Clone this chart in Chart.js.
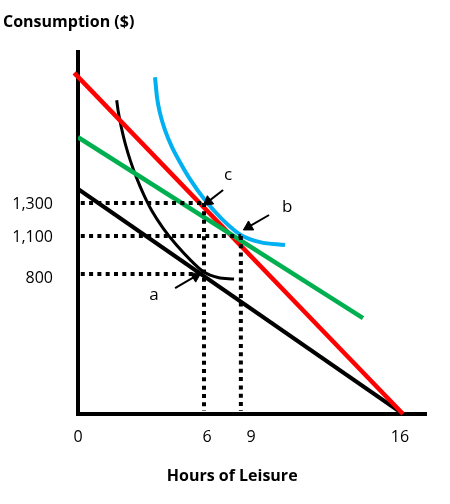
<!DOCTYPE html>
<html>
<head>
<meta charset="utf-8">
<script src="https://cdn.jsdelivr.net/npm/chart.js@4.4.0/dist/chart.umd.min.js"></script>
<style>
  html, body { margin: 0; padding: 0; background: #fff; }
</style>
</head>
<body>
<canvas id="chart" width="450" height="504"></canvas>
<script>
// Sketch coordinates: the diagram is not drawn to scale, so both axes run 0-100
// "as drawn" and the tick labels are put where the picture shows them.
const xTickPos    = [0, 37.1, 49.7, 92.5];
const xTickLabels = ['0', '6', '9', '16'];
const yTickPos    = [37.6, 48.9, 58.0];
const yTickLabels = ['800', '1,100', '1,300'];

// budget lines (start, end)
const redBudgetX   = [-1.1, 93.4];
const redBudgetY   = [94.3, 0];
const greenBudgetX = [0, 81.9];
const greenBudgetY = [76.5, 26.5];
const blackBudgetX = [0, 93.4];
const blackBudgetY = [62.2, 0];

// indifference curves
const lowCurveX  = [11.12, 11.58, 12.50, 13.65, 15.09, 16.81, 18.82, 21.26, 24.43, 28.30, 32.61, 36.21, 40.23, 44.83];
const lowCurveY  = [86.74, 83.51, 79.01, 74.45, 69.89, 65.33, 60.77, 56.08, 51.38, 46.69, 42.27, 39.23, 37.71, 37.29];
const highCurveX = [22.13, 22.70, 23.56, 25.00, 27.01, 29.31, 32.18, 36.49, 41.38, 46.84, 52.30, 59.48];
const highCurveY = [93.09, 87.57, 83.15, 78.45, 73.76, 69.61, 64.92, 59.12, 53.87, 49.45, 47.51, 46.69];

// dotted guides: horizontal ones from the axis, vertical ones down to it
const guideY    = [58.3, 49.2, 38.7];
const guideEndX = [36.2, 46.8, 36.2];
const dropX     = [36.2, 46.8];
const dropTopY  = [58.3, 49.2];

// points a, b, c with their arrows
const pointLabels = ['a', 'b', 'c'];
const pointLabelX = [21.8, 60.1, 43.1];
const pointLabelY = [32.9, 57.2, 66.0];
const arrowTailX  = [27.9, 54.9, 41.7];
const arrowTailY  = [34.8, 55.0, 61.9];
const arrowHeadX  = [33.8, 49.0, 37.4];
const arrowHeadY  = [38.1, 51.7, 58.7];

const xTitle = 'Hours of Leisure';
const yTitle = 'Consumption ($)';

const pts = (xs, ys) => xs.map((v, i) => ({ x: v, y: ys[i] }));

function lineSet(data, color, width, order, extra) {
  return Object.assign({
    data, borderColor: color, borderWidth: width, pointRadius: 0,
    fill: false, tension: 0, order
  }, extra || {});
}

const datasets = [];

// guides on top
guideY.forEach((gy, i) => {
  datasets.push(lineSet(pts([0.8, guideEndX[i]], [gy, gy]), '#000', 4, 0,
    { borderDash: [4, 4.3], borderCapStyle: 'butt' }));
});
dropX.forEach((dx, i) => {
  datasets.push(lineSet(pts([dx, dx], [dropTopY[i], 0.8]), '#000', 4, 0,
    { borderDash: [4, 4.3], borderCapStyle: 'butt' }));
});

// arrows: shaft plus a rotated triangle at the head
pointLabels.forEach((_, i) => {
  datasets.push(lineSet(pts([arrowTailX[i], arrowHeadX[i]], [arrowTailY[i], arrowHeadY[i]]), '#000', 2, 0, {
    pointRadius: ctx => ctx.dataIndex === 1 ? 6 : 0,
    pointStyle: 'triangle',
    pointBackgroundColor: '#000',
    pointBorderColor: '#000',
    pointBorderWidth: 1,
    pointRotation: ctx => {
      const d = ctx.dataset.data, sx = ctx.chart.scales.x, sy = ctx.chart.scales.y;
      const dx = sx.getPixelForValue(d[1].x) - sx.getPixelForValue(d[0].x);
      const dy = sy.getPixelForValue(d[1].y) - sy.getPixelForValue(d[0].y);
      return Math.atan2(dx, -dy) * 180 / Math.PI;
    }
  }));
});

datasets.push(lineSet(pts(greenBudgetX, greenBudgetY), '#00B050', 4.5, 1));
datasets.push(lineSet(pts(highCurveX, highCurveY), '#00B0F0', 4, 2, { cubicInterpolationMode: 'monotone' }));
datasets.push(lineSet(pts(redBudgetX, redBudgetY), '#FF0000', 4.5, 3, { clip: false }));
datasets.push(lineSet(pts(blackBudgetX, blackBudgetY), '#000', 4, 4));
datasets.push(lineSet(pts(lowCurveX, lowCurveY), '#000', 3, 4, { cubicInterpolationMode: 'monotone' }));

// letters a/b/c and the horizontal-axis caption
const sketchText = {
  id: 'sketchText',
  afterDatasetsDraw(chart) {
    const { ctx, scales: { x, y } } = chart;
    ctx.save();
    ctx.fillStyle = '#000';
    ctx.textAlign = 'center';
    ctx.textBaseline = 'middle';
    ctx.font = '17px "Open Sans"';
    pointLabels.forEach((t, i) => {
      ctx.fillText(t, x.getPixelForValue(pointLabelX[i]), y.getPixelForValue(pointLabelY[i]));
    });
    ctx.font = 'bold 16px "Open Sans"';
    ctx.fillText(xTitle, x.getPixelForValue(44.3), chart.height - 28);
    ctx.restore();
  }
};

Chart.defaults.font.family = 'Open Sans';
Chart.defaults.color = '#000';

const tickFont = { family: 'Open Sans', size: 16 };

new Chart(document.getElementById('chart'), {
  type: 'line',
  data: { datasets },
  options: {
    responsive: false,
    animation: false,
    events: [],
    layout: { padding: { left: 3, right: 24, top: 0, bottom: 0 } },
    plugins: {
      legend: { display: false },
      tooltip: { enabled: false },
      title: {
        display: true,
        text: yTitle,
        align: 'start',
        color: '#000',
        font: { family: 'Open Sans', size: 16, weight: 'bold' },
        padding: { top: 13, bottom: 20 }
      }
    },
    scales: {
      x: {
        type: 'linear', min: 0, max: 100,
        grid: { display: false, drawTicks: false },
        border: { display: true, color: '#000', width: 4 },
        ticks: {
          autoSkip: false, padding: 14, color: '#000', font: tickFont,
          callback: (v, i) => xTickLabels[i]
        },
        afterBuildTicks: s => { s.ticks = xTickPos.map(v => ({ value: v })); },
        afterFit: s => { s.height = 90; }
      },
      y: {
        type: 'linear', min: 0, max: 100,
        grid: { display: false, drawTicks: false },
        border: { display: true, color: '#000', width: 4 },
        ticks: {
          autoSkip: false, padding: 25, color: '#000', font: tickFont,
          callback: (v, i) => yTickLabels[i]
        },
        afterBuildTicks: s => { s.ticks = yTickPos.map(v => ({ value: v })); },
        afterFit: s => { s.width = 75; }
      }
    }
  },
  plugins: [sketchText]
});
</script>
</body>
</html>
